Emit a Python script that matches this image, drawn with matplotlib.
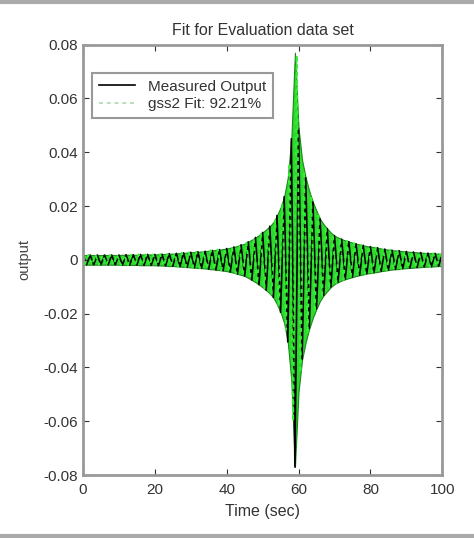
import numpy as np
import matplotlib.pyplot as plt
from matplotlib.lines import Line2D

plt.rcParams['font.family'] = ['Liberation Sans', 'DejaVu Sans']

# Tempo (s) - uma amostra por segundo
t_meas = np.arange(0, 101, 1.0)
t_fit = np.arange(0.5, 100, 1.0)

amp_meas = [0.0018, 0.0018, 0.0018, 0.0018, 0.0018, 0.0018, 0.0018, 0.0018, 0.0018, 0.0018,
            0.0018, 0.0019, 0.0019, 0.0019, 0.0019, 0.0019, 0.0020, 0.0020, 0.0020, 0.0020,
            0.0020, 0.0021, 0.0021, 0.0022, 0.0023, 0.0023, 0.0024, 0.0025, 0.0026, 0.0027,
            0.0028, 0.0029, 0.0030, 0.0031, 0.0032, 0.0034, 0.0035, 0.0037, 0.0038, 0.0040,
            0.0042, 0.0045, 0.0048, 0.0052, 0.0056, 0.0060, 0.0067, 0.0075, 0.0083, 0.0092,
            0.0102, 0.0113, 0.0125, 0.0140, 0.0165, 0.0195, 0.0235, 0.0305, 0.0450, 0.0770,
            0.0490, 0.0370, 0.0305, 0.0255, 0.0215, 0.0182, 0.0152, 0.0132, 0.0116, 0.0101,
            0.0090, 0.0083, 0.0077, 0.0072, 0.0068, 0.0064, 0.0060, 0.0057, 0.0054, 0.0051,
            0.0049, 0.0047, 0.0045, 0.0042, 0.0040, 0.0038, 0.0036, 0.0035, 0.0034, 0.0032,
            0.0031, 0.0030, 0.0029, 0.0028, 0.0027, 0.0026, 0.0025, 0.0025, 0.0024, 0.0023,
            0.0023]

# Amplitude do ajuste gss2, t = 0.5..99.5
amp_fit = [0.0018, 0.0018, 0.0018, 0.0018, 0.0018, 0.0018, 0.0018, 0.0018, 0.0018, 0.0018,
           0.0019, 0.0019, 0.0019, 0.0019, 0.0019, 0.0020, 0.0020, 0.0020, 0.0020, 0.0020,
           0.0021, 0.0021, 0.0022, 0.0022, 0.0023, 0.0024, 0.0025, 0.0026, 0.0027, 0.0028,
           0.0029, 0.0030, 0.0031, 0.0032, 0.0033, 0.0035, 0.0036, 0.0038, 0.0039, 0.0041,
           0.0044, 0.0046, 0.0050, 0.0054, 0.0058, 0.0063, 0.0071, 0.0079, 0.0087, 0.0096,
           0.0105, 0.0115, 0.0127, 0.0147, 0.0175, 0.0210, 0.0260, 0.0360, 0.0600, 0.0760,
           0.0420, 0.0330, 0.0275, 0.0230, 0.0195, 0.0165, 0.0140, 0.0122, 0.0107, 0.0095,
           0.0086, 0.0080, 0.0074, 0.0070, 0.0066, 0.0062, 0.0058, 0.0055, 0.0052, 0.0050,
           0.0048, 0.0046, 0.0043, 0.0041, 0.0039, 0.0037, 0.0035, 0.0034, 0.0033, 0.0031,
           0.0030, 0.0029, 0.0028, 0.0027, 0.0026, 0.0025, 0.0025, 0.0024, 0.0023, 0.0023]

# sinais alternados (oscilação)
y_meas = np.array(amp_meas) * (-1.0) ** np.arange(len(amp_meas))
y_fit = -np.array(amp_fit) * (-1.0) ** np.arange(len(amp_fit))

fig = plt.figure(figsize=(4.74, 5.38), dpi=100)
ax = fig.add_axes([0.175, 0.117, 0.758, 0.800])

# faixa preenchida pela oscilação densa (envelope)
env = np.array(amp_meas)
ax.fill_between(t_meas, -env, env, color='#2fd82f', lw=0.8, ec='#1a8a1a', zorder=1)
ax.plot(t_meas, y_meas, color='black', lw=1.2, label='Measured Output', zorder=2)
ax.plot(t_fit, y_fit, color='#33ee33', lw=1.4, ls='--', dashes=(2, 2),
        label='gss2 Fit: 92.21%', zorder=3)

ax.set_xlim(0, 100)
ax.set_ylim(-0.08, 0.08)
ax.set_xticks([0, 20, 40, 60, 80, 100])
ax.set_yticks([-0.08, -0.06, -0.04, -0.02, 0, 0.02, 0.04, 0.06, 0.08])
ax.set_yticklabels(['-0.08', '-0.06', '-0.04', '-0.02', '0',
                    '0.02', '0.04', '0.06', '0.08'])
ax.tick_params(direction='in', top=True, right=True, length=4,
               labelsize=11, color='#333333', labelcolor='#333333')
ax.tick_params(axis='x', pad=6)
for s in ax.spines.values():
    s.set_color('#999999')
    s.set_linewidth(2)

ax.set_title('Fit for Evaluation data set', fontsize=11.5, pad=7, color='#333333')
ax.set_xlabel('Time (sec)', fontsize=11.5, color='#333333', labelpad=5)
ax.set_ylabel('output', fontsize=10.5, labelpad=9, color='#444444')

leg = ax.legend(loc='upper left', bbox_to_anchor=(0.025, 0.935), fontsize=11,
                fancybox=False, framealpha=1, borderpad=0.45,
                handlelength=2.4, labelspacing=0.25, borderaxespad=0)
leg.get_frame().set_edgecolor('#999999')
leg.get_frame().set_linewidth(1.5)
for txt in leg.get_texts():
    txt.set_color('#333333')
leg.legend_handles[1].set_color('#bbddbb')

# bordas cinzas da imagem
fig.add_artist(Line2D([0, 1], [0.997, 0.997], color='#aaaaaa', lw=3))
fig.add_artist(Line2D([0, 1], [0.003, 0.003], color='#aaaaaa', lw=3))

fig.savefig('out.png', dpi=100)
